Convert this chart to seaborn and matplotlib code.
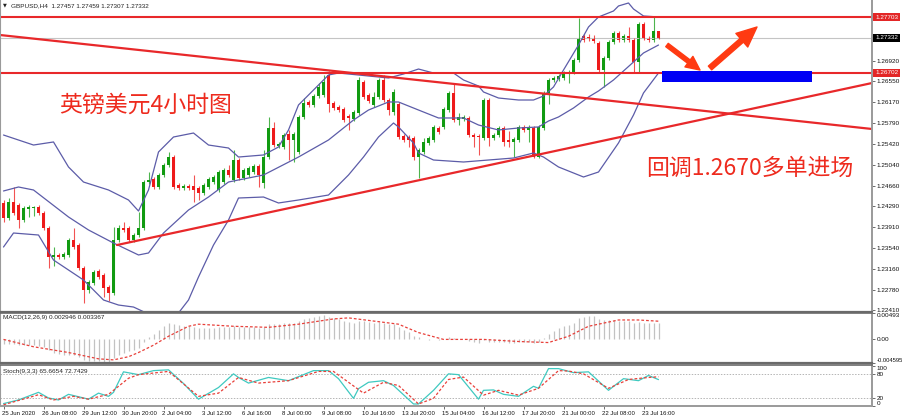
import numpy as np
import pandas as pd
import matplotlib
matplotlib.use("Agg")
import matplotlib.pyplot as plt
import matplotlib.transforms as mtransforms
from matplotlib.patches import Rectangle
import seaborn as sns

# ---------------- data ----------------
symbol_title = "GBPUSD,H4  1.27457 1.27459 1.27307 1.27332"
macd_title = "MACD(12,26,9) 0.002946 0.003367"
stoch_title = "Stoch(9,3,3) 65.6654 72.7429"

opens = [
    1.24346, 1.24075, 1.24364, 1.24310, 1.24038, 1.24237, 1.24256, 1.24274, 1.24165, 1.23894,
    1.23369, 1.23406, 1.23369, 1.23406, 1.23677, 1.23586, 1.23171, 1.22773, 1.22899, 1.23116,
    1.23044, 1.22827, 1.22719, 1.23677, 1.23894, 1.23894, 1.23677, 1.23767, 1.23894, 1.24725,
    1.24780, 1.24635, 1.24852, 1.25033, 1.25177, 1.24671, 1.24617, 1.24653, 1.24653, 1.24617,
    1.24527, 1.24635, 1.24725, 1.24581, 1.24725, 1.24942, 1.24762, 1.25123, 1.24798, 1.24852,
    1.24906, 1.25015, 1.24707, 1.25177, 1.25702, 1.25376, 1.25358, 1.25593, 1.25485, 1.25268,
    1.25901, 1.26172, 1.26118, 1.26280, 1.26298, 1.26660, 1.26154, 1.26081, 1.26045, 1.25919,
    1.25865, 1.25973, 1.26533, 1.26298, 1.26118, 1.26262, 1.26570, 1.26208, 1.25991, 1.26136,
    1.25557, 1.25539, 1.25521, 1.25177, 1.25268, 1.25431, 1.25485, 1.25702, 1.25720, 1.26027,
    1.26335, 1.25846, 1.25865, 1.25883, 1.25575, 1.25557, 1.25521, 1.26208, 1.25521, 1.25575,
    1.25702, 1.25485, 1.25449, 1.25485, 1.25720, 1.25666, 1.25702, 1.25177, 1.25702, 1.26335,
    1.26570, 1.26588, 1.26606, 1.26678, 1.26714, 1.26931, 1.27365, 1.27347, 1.27329, 1.27239,
    1.26750, 1.26967, 1.27257, 1.27419, 1.27293, 1.27365, 1.27293, 1.26895, 1.27582, 1.27329,
    1.27293, 1.27457]
highs = [
    1.24400, 1.24436, 1.24635, 1.24346, 1.24292, 1.24310, 1.24292, 1.24310, 1.24201, 1.23930,
    1.23550, 1.23442, 1.23460, 1.23713, 1.23894, 1.23622, 1.23207, 1.22954, 1.23134, 1.23153,
    1.23080, 1.22863, 1.23912, 1.23948, 1.24002, 1.23930, 1.23803, 1.24183, 1.24762, 1.24906,
    1.24816, 1.24888, 1.25069, 1.25268, 1.25214, 1.24707, 1.24689, 1.24689, 1.24852, 1.24653,
    1.24707, 1.24816, 1.24852, 1.24942, 1.24979, 1.25033, 1.25304, 1.25159, 1.24979, 1.25015,
    1.25051, 1.25051, 1.25304, 1.25901, 1.25810, 1.25449, 1.25611, 1.25666, 1.25630, 1.25937,
    1.26244, 1.26208, 1.26316, 1.26515, 1.26660, 1.26732, 1.26190, 1.26118, 1.26081, 1.25955,
    1.26027, 1.26624, 1.26570, 1.26335, 1.26353, 1.26606, 1.26660, 1.26244, 1.26407, 1.26172,
    1.25593, 1.25575, 1.25557, 1.25340, 1.25521, 1.25557, 1.25756, 1.25738, 1.26081, 1.26371,
    1.26497, 1.25973, 1.25937, 1.25919, 1.25611, 1.25593, 1.26244, 1.26244, 1.25611, 1.25738,
    1.25738, 1.25648, 1.25539, 1.25756, 1.25756, 1.25756, 1.25738, 1.25756, 1.26371, 1.26606,
    1.26642, 1.26678, 1.26732, 1.26750, 1.26967, 1.27691, 1.27401, 1.27401, 1.27383, 1.27275,
    1.27004, 1.27293, 1.27456, 1.27456, 1.27401, 1.27528, 1.27329, 1.27618, 1.27618, 1.27365,
    1.27727, 1.27459]
lows = [
    1.24002, 1.24038, 1.24129, 1.23894, 1.24002, 1.24093, 1.24111, 1.24129, 1.23858, 1.23171,
    1.23207, 1.23333, 1.23333, 1.23369, 1.23514, 1.23134, 1.22538, 1.22719, 1.22863, 1.22972,
    1.22646, 1.22574, 1.22682, 1.23641, 1.23821, 1.23641, 1.23641, 1.23731, 1.23858, 1.24689,
    1.24599, 1.24599, 1.24816, 1.24997, 1.24599, 1.24581, 1.24581, 1.24581, 1.24364, 1.24400,
    1.24490, 1.24599, 1.24689, 1.24545, 1.24689, 1.24816, 1.24725, 1.24762, 1.24762, 1.24816,
    1.24870, 1.24635, 1.24617, 1.25141, 1.25358, 1.25340, 1.25322, 1.25123, 1.25087, 1.25232,
    1.25865, 1.26081, 1.26081, 1.26244, 1.26262, 1.25991, 1.26027, 1.25991, 1.25810, 1.25666,
    1.25828, 1.25937, 1.26226, 1.26154, 1.26081, 1.26226, 1.26172, 1.25937, 1.25937, 1.25503,
    1.25449, 1.25358, 1.25123, 1.24798, 1.25232, 1.25394, 1.25449, 1.25593, 1.25684, 1.25991,
    1.25810, 1.25756, 1.25828, 1.25539, 1.25358, 1.25214, 1.25485, 1.25376, 1.25485, 1.25539,
    1.25376, 1.25358, 1.25177, 1.25449, 1.25630, 1.25449, 1.25159, 1.25159, 1.25666, 1.26136,
    1.26533, 1.26552, 1.26570, 1.26515, 1.26678, 1.26895, 1.27257, 1.27275, 1.27239, 1.26714,
    1.26443, 1.26931, 1.27220, 1.27257, 1.27257, 1.27257, 1.26714, 1.26714, 1.27293, 1.27257,
    1.27257, 1.27307]
closes = [
    1.24075, 1.24364, 1.24165, 1.24038, 1.24256, 1.24274, 1.24274, 1.24165, 1.23894, 1.23369,
    1.23406, 1.23369, 1.23424, 1.23677, 1.23550, 1.23171, 1.22773, 1.22917, 1.23098, 1.23008,
    1.22809, 1.22719, 1.23677, 1.23894, 1.23858, 1.23677, 1.23767, 1.23894, 1.24725, 1.24762,
    1.24635, 1.24852, 1.25033, 1.25177, 1.24635, 1.24617, 1.24653, 1.24617, 1.24581, 1.24527,
    1.24671, 1.24780, 1.24816, 1.24906, 1.24942, 1.24852, 1.25123, 1.24798, 1.24942, 1.24979,
    1.25015, 1.24852, 1.25177, 1.25702, 1.25394, 1.25412, 1.25575, 1.25485, 1.25593, 1.25901,
    1.26154, 1.26118, 1.26280, 1.26443, 1.26533, 1.26136, 1.26063, 1.26027, 1.25846, 1.25883,
    1.25991, 1.26570, 1.26262, 1.26190, 1.26262, 1.26570, 1.26208, 1.26027, 1.26353, 1.25539,
    1.25485, 1.25485, 1.25177, 1.25304, 1.25449, 1.25521, 1.25720, 1.25630, 1.26045, 1.26335,
    1.25846, 1.25901, 1.25901, 1.25575, 1.25539, 1.25539, 1.26208, 1.25521, 1.25575, 1.25702,
    1.25449, 1.25449, 1.25503, 1.25720, 1.25666, 1.25720, 1.25177, 1.25720, 1.26335, 1.26570,
    1.26606, 1.26642, 1.26696, 1.26714, 1.26931, 1.27329, 1.27293, 1.27311, 1.27275, 1.26750,
    1.26967, 1.27257, 1.27419, 1.27293, 1.27365, 1.27293, 1.26895, 1.27582, 1.27329, 1.27293,
    1.27456, 1.27332]

# Bollinger bands read at sample bars
bb_up_bar = [0, 6, 10, 13, 16, 21, 25, 27, 29, 31, 34, 38, 41, 45, 47, 52, 55, 57, 59, 61, 63, 65,
             67, 71, 77, 80, 83, 86, 90, 92, 95, 96, 99, 103, 106, 108, 110, 112, 115, 117, 119,
             122, 123, 125, 126, 128, 131]
bb_up = [1.25575, 1.25394, 1.25449, 1.24997, 1.24725, 1.24581, 1.24400, 1.24201, 1.24581, 1.25268,
         1.25539, 1.25611, 1.25394, 1.25340, 1.25177, 1.25214, 1.25358, 1.25666, 1.26118, 1.26298,
         1.26479, 1.26660, 1.26696, 1.26660, 1.26606, 1.26678, 1.26768, 1.26696, 1.26696, 1.26570,
         1.26461, 1.26353, 1.26244, 1.26208, 1.26208, 1.26280, 1.26443, 1.26750, 1.27202, 1.27528,
         1.27709, 1.27817, 1.27908, 1.27962, 1.27853, 1.27727, 1.27709]
bb_mid_bar = [0, 3, 6, 13, 17, 22, 27, 29, 32, 37, 41, 45, 47, 52, 59, 65, 70, 73, 77, 79, 83, 87,
              92, 95, 99, 103, 107, 109, 111, 114, 117, 119, 122, 126, 128, 131]
bb_mid = [1.24563, 1.24635, 1.24581, 1.24093, 1.23858, 1.23622, 1.23406, 1.23442, 1.23803, 1.24219,
          1.24454, 1.24725, 1.24762, 1.24852, 1.25177, 1.25485, 1.25846, 1.26027, 1.26172, 1.26172,
          1.26027, 1.25883, 1.25883, 1.25756, 1.25666, 1.25702, 1.25720, 1.25828, 1.25901, 1.26063,
          1.26262, 1.26371, 1.26570, 1.26895, 1.27058, 1.27202]
bb_low_bar = [0, 2, 7, 10, 16, 20, 23, 26, 29, 33, 35, 37, 39, 42, 45, 47, 52, 55, 59, 65, 69, 72,
              75, 78, 79, 82, 83, 86, 92, 97, 102, 106, 108, 111, 116, 119, 123, 126, 128, 131]
bb_low = [1.23550, 1.23803, 1.23767, 1.23315, 1.22954, 1.22592, 1.22501, 1.22465, 1.22339, 1.22230,
          1.22357, 1.22592, 1.23008, 1.23586, 1.24038, 1.24436, 1.24454, 1.24346, 1.24400, 1.24490,
          1.24852, 1.25177, 1.25539, 1.25792, 1.25720, 1.25431, 1.25250, 1.25123, 1.25087, 1.25123,
          1.25159, 1.25250, 1.25177, 1.24997, 1.24816, 1.24906, 1.25431, 1.25937, 1.26335, 1.26696]

resistance = 1.27703
support = 1.26702
trend_down_bar = [-0.7, 173.7]
trend_down_px = [1.27383, 1.25684]
trend_up_bar = [22.7, 173.7]
trend_up_px = [1.23586, 1.26515]
zone_bar = [131.7, 161.7]
zone_px = [1.26533, 1.26732]
arrow1 = [(132.7, 1.27202), (139.3, 1.26750)]
arrow2 = [(141.3, 1.26787), (150.7, 1.27528)]

title_cn = "英镑美元4小时图"
note_cn = "回调1.2670多单进场"

price_ticks = [1.22410, 1.22780, 1.23160, 1.23540, 1.23910, 1.24290, 1.24660,
               1.25040, 1.25420, 1.25790, 1.26170, 1.26550, 1.26920]

macd_main = [
    -0.0010, -0.0010, -0.0010, -0.0012, -0.0012, -0.0012, -0.0012, -0.0013, -0.0015, -0.0022,
    -0.0026, -0.0029, -0.0031, -0.0030, -0.0030, -0.0034, -0.0040, -0.0042, -0.0042, -0.0043,
    -0.0044, -0.0045, -0.0036, -0.0030, -0.0026, -0.0024, -0.0022, -0.0018, -0.0006, 0.0004,
    0.0010, 0.0017, 0.0024, 0.0030, 0.0028, 0.0026, 0.0025, 0.0024, 0.0022, 0.0021,
    0.0021, 0.0021, 0.0021, 0.0022, 0.0023, 0.0022, 0.0024, 0.0022, 0.0022, 0.0022,
    0.0022, 0.0021, 0.0023, 0.0028, 0.0029, 0.0029, 0.0030, 0.0030, 0.0030, 0.0034,
    0.0038, 0.0039, 0.0041, 0.0043, 0.0045, 0.0042, 0.0040, 0.0038, 0.0035, 0.0032,
    0.0031, 0.0035, 0.0034, 0.0032, 0.0031, 0.0032, 0.0031, 0.0028, 0.0028, 0.0022,
    0.0017, 0.0013, 0.0006, 0.0003, -0.0001, -0.0002, -0.0001, -0.0002, 0.0000, 0.0003,
    0.0001, 0.0000, -0.0001, -0.0004, -0.0006, -0.0007, -0.0003, -0.0005, -0.0006, -0.0005,
    -0.0006, -0.0007, -0.0008, -0.0006, -0.0006, -0.0005, -0.0008, -0.0006, 0.0002, 0.0010,
    0.0015, 0.0020, 0.0024, 0.0027, 0.0031, 0.0039, 0.0042, 0.0043, 0.0043, 0.0038,
    0.0036, 0.0036, 0.0036, 0.0035, 0.0035, 0.0034, 0.0030, 0.0032, 0.0031, 0.0030,
    0.0031, 0.002946]
macd_sig_bar = [0, 6, 13, 19, 22, 25, 27, 30, 33, 37, 39, 46, 53, 59, 66, 69, 74, 79, 83, 88, 96,
                103, 109, 113, 117, 123, 127, 131]
macd_sig = [-0.0001, -0.0015, -0.0026, -0.0038, -0.0040, -0.0034, -0.0026, -0.0012, 0.0005, 0.0024,
            0.0028, 0.0024, 0.0022, 0.0028, 0.0038, 0.0040, 0.0034, 0.0028, 0.0012, -0.0001, -0.0001,
            -0.0005, -0.0007, 0.0005, 0.0024, 0.0036, 0.0036, 0.003367]
macd_ticks = [0.00493, 0.0, -0.004595]
macd_labels = ["0.00493", "0.00", "-0.004595"]

stoch_main_bar = [0, 3, 7, 9, 11, 13, 17, 19, 21, 22, 24, 27, 30, 33, 36, 39, 43, 46, 47, 49, 53,
                  57, 62, 65, 67, 70, 71, 73, 76, 78, 82, 83, 86, 89, 91, 95, 96, 98, 100, 103,
                  106, 107, 109, 111, 114, 117, 121, 124, 127, 129, 131]
stoch_main = [6, 15, 34, 20, 15, 29, 17, 32, 24, 34, 85, 78, 88, 90, 56, 17, 46, 80, 71, 57, 71,
              63, 88, 88, 68, 19, 43, 59, 63, 51, 5, 5, 39, 80, 78, 17, 39, 40, 29, 24,
              49, 44, 93, 93, 83, 85, 39, 68, 63, 76, 65.6654]
stoch_sig_bar = [0, 7, 10, 14, 17, 21, 25, 27, 33, 39, 43, 47, 51, 57, 63, 66, 72, 76, 79, 83, 86,
                 89, 92, 96, 99, 103, 107, 111, 113, 116, 121, 125, 129, 131]
stoch_sig = [3, 28, 15, 24, 17, 29, 69, 78, 86, 24, 32, 71, 57, 63, 86, 86, 32, 59, 51, 5, 19,
             66, 72, 27, 39, 27, 44, 88, 87, 80, 44, 66, 71, 72.7429]
stoch_ticks = [100, 80, 20, 0]

date_bar = [0, 8, 16, 24, 32, 40, 48, 56, 64, 72, 80, 88, 96, 104, 112, 120, 128]
date_labels = ["25 Jun 2020", "26 Jun 08:00", "29 Jun 12:00", "30 Jun 20:00", "2 Jul 04:00",
               "3 Jul 12:00", "6 Jul 16:00", "8 Jul 00:00", "9 Jul 08:00", "10 Jul 16:00",
               "13 Jul 20:00", "15 Jul 04:00", "16 Jul 12:00", "17 Jul 20:00", "21 Jul 00:00",
               "22 Jul 08:00", "23 Jul 16:00"]

# ---------------- styling ----------------
sns.set_theme(style="white")
plt.rcParams["font.family"] = ["Liberation Sans", "DejaVu Sans", "Noto Sans CJK SC"]
CJK = ["Noto Sans CJK SC", "DejaVu Sans"]
SMALL = 4.6

GREEN = "#119B11"
RED = "#EE1A1A"
LINE_RED = "#E8282A"
BB = "#5C5CA8"
TXT_RED = "#EE2B1E"
ARROW = "#FF3A12"
SEP = "#6A6A6A"
AXC = "#9A9A9A"

W, H = 902, 418
fig = plt.figure(figsize=(W / 100, H / 100), dpi=100)


def rect(x0, y0, x1, y1):
    return [x0 / W, 1 - y1 / H, (x1 - x0) / W, (y1 - y0) / H]


ax = fig.add_axes(rect(0, 0, 872, 312))
axm = fig.add_axes(rect(0, 313, 872, 363))
axs = fig.add_axes(rect(0, 365, 872, 406))
XL = (-0.7, 173.7)
for a in (ax, axm, axs):
    a.set_xlim(*XL)
    a.set_facecolor("white")
    a.yaxis.tick_right()
    for s in a.spines.values():
        s.set_color(AXC)
        s.set_linewidth(0.8)
    a.spines["right"].set_linewidth(1.4)
    a.tick_params(axis="y", which="both", length=2.5, width=0.6, color="#555555",
                  labelsize=SMALL, pad=1, labelcolor="#111111", right=True, left=False)
    a.grid(False)
ax.spines["top"].set_visible(False)
ax.spines["bottom"].set_color(SEP)
ax.spines["bottom"].set_linewidth(1.6)
axm.spines["top"].set_color(SEP)
axm.spines["top"].set_linewidth(1.2)
axm.spines["bottom"].set_color(SEP)
axm.spines["bottom"].set_linewidth(1.6)
axs.spines["top"].set_color(SEP)
axs.spines["top"].set_linewidth(1.2)
axs.spines["bottom"].set_linewidth(1.4)
ax.set_xticks([])
axm.set_xticks([])

# ---------------- main price panel ----------------
bars = pd.DataFrame({"bar": np.arange(len(closes)), "open": opens, "high": highs,
                     "low": lows, "close": closes})
bull = bars["close"] >= bars["open"]
cols = np.where(bull, GREEN, RED)
ax.vlines(bars["bar"], bars["low"], bars["high"], colors=cols, linewidth=0.8, alpha=0.75)
body = np.maximum((bars["close"] - bars["open"]).abs(), 0.00011)
ax.bar(bars["bar"], body, bottom=np.minimum(bars["open"], bars["close"]), width=0.62,
       color=cols, linewidth=0)

for bx, by in ((bb_up_bar, bb_up), (bb_mid_bar, bb_mid), (bb_low_bar, bb_low)):
    sns.lineplot(x=bx, y=by, ax=ax, color=BB, linewidth=0.9, sort=False)

ax.axhline(closes[-1], color="#C4C4C4", linewidth=0.8, zorder=1)
ax.axhline(resistance, color=LINE_RED, linewidth=1.5)
ax.axhline(support, color=LINE_RED, linewidth=1.5)
sns.lineplot(x=trend_down_bar, y=trend_down_px, ax=ax, color=LINE_RED, linewidth=1.6)
sns.lineplot(x=trend_up_bar, y=trend_up_px, ax=ax, color=LINE_RED, linewidth=1.6)

ax.add_patch(Rectangle((zone_bar[0], zone_px[0]), zone_bar[1] - zone_bar[0],
                       zone_px[1] - zone_px[0], facecolor="#0000F5", edgecolor="none", zorder=4))

ax.annotate("", xy=arrow1[1], xytext=arrow1[0],
            arrowprops=dict(arrowstyle="simple,head_length=1.0,head_width=0.95,tail_width=0.3",
                            color=ARROW, shrinkA=0, shrinkB=0, mutation_scale=10), zorder=5)
ax.annotate("", xy=arrow2[1], xytext=arrow2[0],
            arrowprops=dict(arrowstyle="simple,head_length=1.45,head_width=1.3,tail_width=0.36",
                            color=ARROW, shrinkA=0, shrinkB=0, mutation_scale=10), zorder=5)

ax.text(28.5, 1.26118, title_cn, family=CJK, fontsize=16.5, color=TXT_RED,
        ha="center", va="center")
ax.text(149.3, 1.24979, note_cn, family=CJK, fontsize=16.5, color=TXT_RED,
        ha="center", va="center")

ax.set_ylim(1.22375, 1.28016)
ax.set_yticks(price_ticks)
ax.set_yticklabels([f"{t:.5f}" for t in price_ticks])
ax.set_ylabel("")
ax.set_xlabel("")
ax.set_xlim(*XL)

tr = mtransforms.blended_transform_factory(ax.transAxes, ax.transData)
for val, bg in ((resistance, "#E32626"), (closes[-1], "#000000"), (support, "#E32626")):
    ax.text(1.0035, val, f"{val:.5f}", transform=tr, fontsize=SMALL, color="white",
            ha="left", va="center", clip_on=False,
            bbox=dict(boxstyle="square,pad=0.25", facecolor=bg, edgecolor="none"))

ax.text(0.0035, 0.983, "\u25BC", transform=ax.transAxes, fontsize=3.6, color="#222222",
        ha="left", va="center", family=["DejaVu Sans"])
ax.text(0.0125, 0.983, symbol_title, transform=ax.transAxes, fontsize=SMALL, color="#222222",
        ha="left", va="center")

# ---------------- MACD panel ----------------
axm.vlines(np.arange(len(macd_main)), 0, macd_main, colors="#C2C2C2", linewidth=0.9)
sns.lineplot(x=macd_sig_bar, y=macd_sig, ax=axm, color="#E8403A", linewidth=0.9,
             linestyle=(0, (2.2, 1.6)))
axm.set_ylim(-0.004595, 0.00493)
axm.set_yticks(macd_ticks)
axm.set_yticklabels(macd_labels)
lbls = axm.get_yticklabels()
lbls[0].set_va("top")
lbls[2].set_va("bottom")
lbls[2].set_fontsize(4.2)
axm.set_xlim(*XL)
axm.set_ylabel("")
axm.set_xlabel("")
axm.text(0.0035, 0.9, macd_title, transform=axm.transAxes, fontsize=SMALL, color="#222222",
         ha="left", va="center")

# ---------------- Stochastic panel ----------------
axs.axhline(80, color="#B5B5B5", linewidth=0.7, linestyle=(0, (1.5, 1.5)))
axs.axhline(20, color="#B5B5B5", linewidth=0.7, linestyle=(0, (1.5, 1.5)))
sns.lineplot(x=stoch_main_bar, y=stoch_main, ax=axs, color="#3FC9C0", linewidth=0.9)
sns.lineplot(x=stoch_sig_bar, y=stoch_sig, ax=axs, color="#E8403A", linewidth=0.9,
             linestyle=(0, (2.2, 1.6)))
axs.set_ylim(0, 102)
axs.set_yticks(stoch_ticks)
axs.set_yticklabels([str(t) for t in stoch_ticks])
sl = axs.get_yticklabels()
sl[0].set_va("top")
sl[3].set_va("bottom")
axs.set_xlim(*XL)
axs.set_ylabel("")
axs.set_xlabel("")
axs.text(0.0035, 0.83, stoch_title, transform=axs.transAxes, fontsize=SMALL, color="#222222",
         ha="left", va="center")
axs.set_xticks(date_bar)
axs.set_xticklabels(date_labels, fontsize=4.3, color="#111111", ha="left")
axs.tick_params(axis="x", length=2.5, width=0.6, color="#555555", pad=1, bottom=True)
for t in axs.get_xticklabels():
    t.set_transform(t.get_transform() + mtransforms.ScaledTranslation(-1.5 / 100, 0,
                                                                       fig.dpi_scale_trans))

fig.savefig("out.png", dpi=100)
